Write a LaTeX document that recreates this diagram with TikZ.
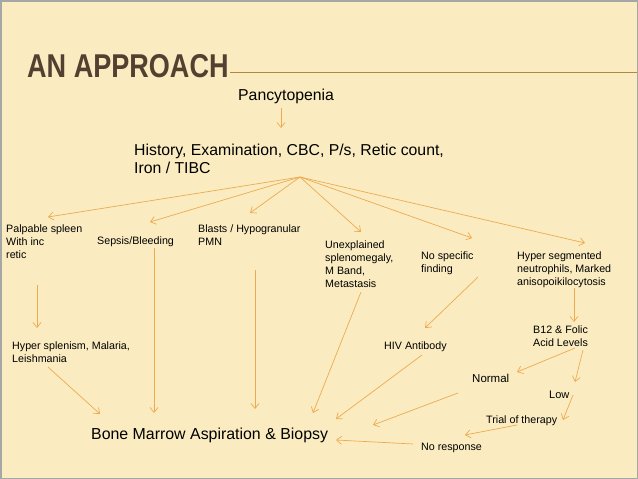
\documentclass[tikz,border=0pt]{standalone}
\usepackage{fontspec}
\setmainfont{Liberation Sans}
\usetikzlibrary{arrows.meta}
\definecolor{bg}{RGB}{250,236,192}
\definecolor{ln}{RGB}{238,170,80}
\definecolor{tt}{RGB}{84,64,48}
\definecolor{rule}{RGB}{176,136,64}
\tikzset{
 lbl/.style={anchor=base west,inner sep=0pt,font=\fontsize{10.7}{12.8}\selectfont,align=left,text=black},
 big/.style={anchor=base west,inner sep=0pt,font=\fontsize{15.8}{18}\selectfont,align=left},
 arr/.style={draw=ln,line width=0.7pt,-{Straight Barb[length=5pt,width=8pt]}},
}
\begin{document}
\begin{tikzpicture}[x=1pt,y=-1pt]
\useasboundingbox (0,0) rectangle (638,479);
\fill[bg] (0,0) rectangle (638,479);
\draw[gray!70,line width=1.5pt] (0.75,0.75) rectangle (637.25,478.25);
\node[anchor=base west,inner sep=0pt,text=tt,font=\bfseries\fontsize{33}{33}\selectfont] (title) at (27,77) {\scalebox{0.82}[1]{AN APPROACH}};
\draw[rule,line width=0.8pt] (title.base east) ++(1,-5) coordinate (r1) -- (637,72);
\node[big] (pan) at (238,100) {Pancytopenia};
\node[big] (his) at (134,173) {History, Examination, CBC, P/s, Retic count,\\Iron / TIBC};
\coordinate (fan) at (300,177);
\node[lbl] (pal) at (6,258) {Palpable spleen\\With inc\\retic};
\node[lbl] (sep) at (97,244) {Sepsis/Bleeding};
\node[lbl] (bla) at (198,245) {Blasts / Hypogranular\\PMN};
\node[lbl] (une) at (325,287) {Unexplained\\splenomegaly,\\M Band,\\Metastasis};
\node[lbl] (nos) at (421,272) {No specific\\finding};
\node[lbl] (hyp) at (517,285) {Hyper segmented\\neutrophils, Marked\\anisopoikilocytosis};
\node[lbl] (hsp) at (12,362) {Hyper splenism, Malaria,\\Leishmania};
\node[lbl] (hiv) at (384,349) {HIV Antibody};
\node[lbl] (b12) at (533,346) {B12 \& Folic\\Acid Levels};
\node[lbl,font=\fontsize{11.5}{12}\selectfont] (nor) at (472,382) {Normal};
\node[lbl,font=\fontsize{11}{12}\selectfont] (low) at (549,398) {Low};
\node[lbl] (tri) at (486,423) {Trial of therapy};
\node[lbl] (nor2) at (421,450) {No response};
\node[anchor=base west,inner sep=0pt,font=\fontsize{15.9}{18}\selectfont] (bm) at (91,439) {Bone Marrow Aspiration \& Biopsy};
% arrows
\draw[arr] (281,108) -- (281,128);
\draw[arr] (fan) -- (48,217);
\draw[arr] (fan) -- (150,222);
\draw[arr] (fan) -- (250,213);
\draw[arr] (fan) -- (361,232);
\draw[arr] (fan) -- (472,238);
\draw[arr] (fan) -- (585,243);
\draw[arr] (37,285) -- (37,328);
\draw[arr] (154,248) -- (154,413);
\draw[arr] (255,270) -- (255,409);
\draw[arr] (48,367) -- (100,414);
\draw[arr] (361,292) -- (313,413);
\draw[arr] (478,277) -- (425,328);
\draw[arr] (574,288) -- (574,322);
\draw[arr] (422,355) -- (336,419);
\draw[arr] (575,348) -- (517,372);
\draw[arr] (583,350) -- (575,382);
\draw[arr] (573,395) -- (563,420);
\draw[arr] (517,425) -- (465,435);
\draw[arr] (458,393) -- (373,425);
\draw[arr] (413,444) -- (336,440);
\end{tikzpicture}
\end{document}
